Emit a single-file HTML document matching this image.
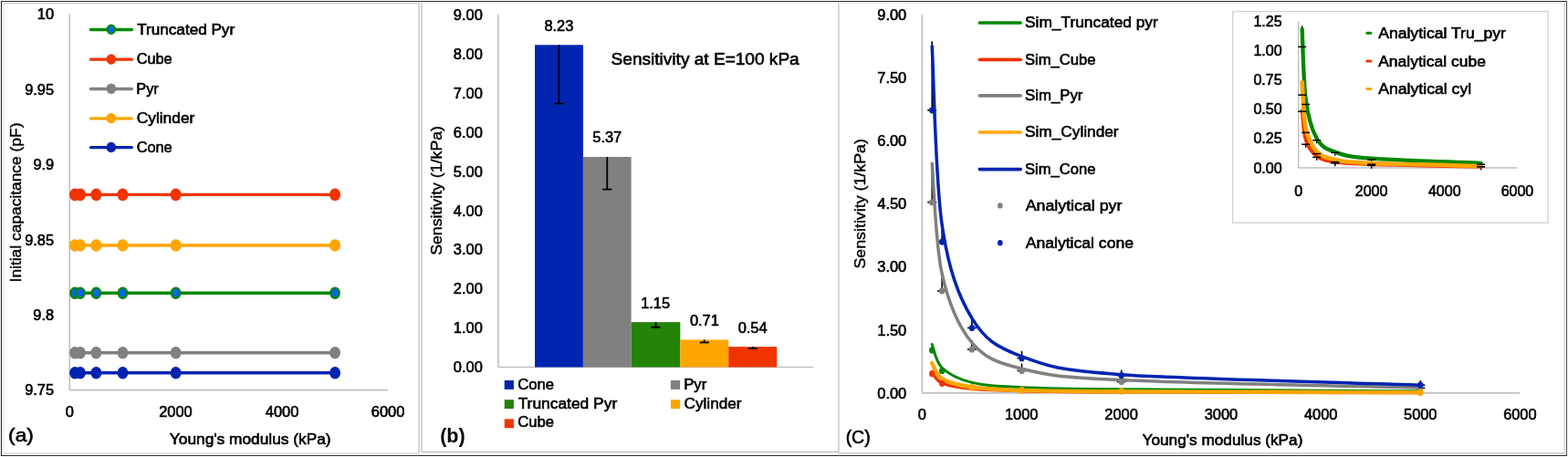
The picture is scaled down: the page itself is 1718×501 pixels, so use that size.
<!DOCTYPE html>
<html><head><meta charset="utf-8"><title>Capacitance and sensitivity charts</title>
<style>
html,body{margin:0;padding:0;background:#fff;}
body{width:1718px;height:501px;overflow:hidden;}
svg{display:block;font-family:'Liberation Sans', Arial, sans-serif;filter:blur(0.3px);}
text{fill:#000;stroke:#000;stroke-width:0.6px;}
</style></head><body>
<svg width="1718" height="501" viewBox="0 0 1718 501">
<rect x="0.00" y="0.00" width="1718.00" height="501.00" fill="#fff"/>
<line x1="4.00" y1="3.60" x2="459.10" y2="3.60" stroke="#d0d0d0" stroke-width="1.3"/>
<line x1="4.00" y1="3.60" x2="4.00" y2="497.00" stroke="#ececec" stroke-width="1.2"/>
<line x1="459.10" y1="3.00" x2="459.10" y2="497.00" stroke="#c8c8c8" stroke-width="1.5"/>
<line x1="4.00" y1="497.00" x2="459.10" y2="497.00" stroke="#d8d8d8" stroke-width="1.3"/>
<line x1="462.00" y1="2.80" x2="918.90" y2="2.80" stroke="#f2f2f2" stroke-width="1.2"/>
<line x1="462.00" y1="2.80" x2="462.00" y2="495.50" stroke="#c8c8c8" stroke-width="1.5"/>
<line x1="462.00" y1="495.50" x2="918.90" y2="495.50" stroke="#bdbdbd" stroke-width="1.3"/>
<line x1="918.90" y1="2.80" x2="918.90" y2="496.80" stroke="#c8c8c8" stroke-width="1.5"/>
<line x1="918.90" y1="3.30" x2="1714.30" y2="3.30" stroke="#eeeeee" stroke-width="1.2"/>
<line x1="1714.30" y1="3.30" x2="1714.30" y2="496.80" stroke="#d6d6d6" stroke-width="1.4"/>
<line x1="918.90" y1="496.80" x2="1714.30" y2="496.80" stroke="#c2c2c2" stroke-width="1.3"/>
<line x1="0.90" y1="1.50" x2="1717.10" y2="1.50" stroke="#2a2a2a" stroke-width="1.1"/>
<line x1="0.90" y1="499.50" x2="1717.10" y2="499.50" stroke="#2a2a2a" stroke-width="1.1"/>
<line x1="1.50" y1="0.90" x2="1.50" y2="500.10" stroke="#2a2a2a" stroke-width="1.1"/>
<line x1="1716.50" y1="0.90" x2="1716.50" y2="500.10" stroke="#505050" stroke-width="1.1"/>
<line x1="76.30" y1="15.60" x2="76.30" y2="427.60" stroke="#bfbfbf" stroke-width="1.6"/>
<line x1="76.30" y1="427.60" x2="425.20" y2="427.60" stroke="#bfbfbf" stroke-width="1.6"/>
<line x1="82.11" y1="213.40" x2="367.05" y2="213.40" stroke="#f03400" stroke-width="3.4"/>
<ellipse cx="82.11" cy="213.40" rx="6.0" ry="6.8" fill="#f03400"/>
<ellipse cx="87.93" cy="213.40" rx="6.0" ry="6.8" fill="#f03400"/>
<ellipse cx="105.38" cy="213.40" rx="6.0" ry="6.8" fill="#f03400"/>
<ellipse cx="134.45" cy="213.40" rx="6.0" ry="6.8" fill="#f03400"/>
<ellipse cx="192.60" cy="213.40" rx="6.0" ry="6.8" fill="#f03400"/>
<ellipse cx="367.05" cy="213.40" rx="6.0" ry="6.8" fill="#f03400"/>
<line x1="82.11" y1="269.00" x2="367.05" y2="269.00" stroke="#ffa500" stroke-width="3.4"/>
<ellipse cx="82.11" cy="269.00" rx="6.0" ry="6.8" fill="#ffa500"/>
<ellipse cx="87.93" cy="269.00" rx="6.0" ry="6.8" fill="#ffa500"/>
<ellipse cx="105.38" cy="269.00" rx="6.0" ry="6.8" fill="#ffa500"/>
<ellipse cx="134.45" cy="269.00" rx="6.0" ry="6.8" fill="#ffa500"/>
<ellipse cx="192.60" cy="269.00" rx="6.0" ry="6.8" fill="#ffa500"/>
<ellipse cx="367.05" cy="269.00" rx="6.0" ry="6.8" fill="#ffa500"/>
<line x1="82.11" y1="321.20" x2="367.05" y2="321.20" stroke="#008700" stroke-width="3.4"/>
<ellipse cx="82.11" cy="321.20" rx="4.8" ry="5.7" fill="#0a66e0" stroke="#008700" stroke-width="2.1"/>
<ellipse cx="87.93" cy="321.20" rx="4.8" ry="5.7" fill="#0a66e0" stroke="#008700" stroke-width="2.1"/>
<ellipse cx="105.38" cy="321.20" rx="4.8" ry="5.7" fill="#0a66e0" stroke="#008700" stroke-width="2.1"/>
<ellipse cx="134.45" cy="321.20" rx="4.8" ry="5.7" fill="#0a66e0" stroke="#008700" stroke-width="2.1"/>
<ellipse cx="192.60" cy="321.20" rx="4.8" ry="5.7" fill="#0a66e0" stroke="#008700" stroke-width="2.1"/>
<ellipse cx="367.05" cy="321.20" rx="4.8" ry="5.7" fill="#0a66e0" stroke="#008700" stroke-width="2.1"/>
<line x1="82.11" y1="386.80" x2="367.05" y2="386.80" stroke="#808080" stroke-width="3.4"/>
<ellipse cx="82.11" cy="386.80" rx="6.0" ry="6.8" fill="#808080"/>
<ellipse cx="87.93" cy="386.80" rx="6.0" ry="6.8" fill="#808080"/>
<ellipse cx="105.38" cy="386.80" rx="6.0" ry="6.8" fill="#808080"/>
<ellipse cx="134.45" cy="386.80" rx="6.0" ry="6.8" fill="#808080"/>
<ellipse cx="192.60" cy="386.80" rx="6.0" ry="6.8" fill="#808080"/>
<ellipse cx="367.05" cy="386.80" rx="6.0" ry="6.8" fill="#808080"/>
<line x1="82.11" y1="408.70" x2="367.05" y2="408.70" stroke="#0024b0" stroke-width="3.4"/>
<ellipse cx="82.11" cy="408.70" rx="6.0" ry="6.8" fill="#0024b0"/>
<ellipse cx="87.93" cy="408.70" rx="6.0" ry="6.8" fill="#0024b0"/>
<ellipse cx="105.38" cy="408.70" rx="6.0" ry="6.8" fill="#0024b0"/>
<ellipse cx="134.45" cy="408.70" rx="6.0" ry="6.8" fill="#0024b0"/>
<ellipse cx="192.60" cy="408.70" rx="6.0" ry="6.8" fill="#0024b0"/>
<ellipse cx="367.05" cy="408.70" rx="6.0" ry="6.8" fill="#0024b0"/>
<line x1="99.50" y1="32.50" x2="144.40" y2="32.50" stroke="#008700" stroke-width="3.3" stroke-linecap="round"/>
<ellipse cx="121.80" cy="32.30" rx="4.2" ry="4.7" fill="#0a66e0" stroke="#008700" stroke-width="2.1"/>
<line x1="99.50" y1="65.20" x2="144.40" y2="65.20" stroke="#f03400" stroke-width="3.3" stroke-linecap="round"/>
<ellipse cx="121.80" cy="65.00" rx="5.3" ry="5.7" fill="#f03400"/>
<line x1="99.50" y1="97.50" x2="144.40" y2="97.50" stroke="#808080" stroke-width="3.3" stroke-linecap="round"/>
<ellipse cx="121.80" cy="97.30" rx="5.3" ry="5.7" fill="#808080"/>
<line x1="99.50" y1="129.80" x2="144.40" y2="129.80" stroke="#ffa500" stroke-width="3.3" stroke-linecap="round"/>
<ellipse cx="121.80" cy="129.60" rx="5.3" ry="5.7" fill="#ffa500"/>
<line x1="99.50" y1="161.70" x2="144.40" y2="161.70" stroke="#0024b0" stroke-width="3.3" stroke-linecap="round"/>
<ellipse cx="121.80" cy="161.50" rx="5.3" ry="5.7" fill="#0024b0"/>
<line x1="545.90" y1="16.00" x2="545.90" y2="402.50" stroke="#bfbfbf" stroke-width="1.6"/>
<line x1="545.90" y1="402.50" x2="891.00" y2="402.50" stroke="#bfbfbf" stroke-width="1.6"/>
<rect x="586.00" y="49.27" width="52.90" height="353.23" fill="#0024b0"/>
<rect x="638.90" y="172.02" width="52.70" height="230.48" fill="#808080"/>
<rect x="691.60" y="353.14" width="53.70" height="49.36" fill="#238306"/>
<rect x="745.30" y="372.46" width="52.90" height="30.04" fill="#ffa500"/>
<rect x="798.20" y="380.18" width="53.00" height="22.32" fill="#f03400"/>
<line x1="612.45" y1="49.27" x2="612.45" y2="113.65" stroke="#000" stroke-width="1.8"/>
<line x1="607.45" y1="113.65" x2="617.45" y2="113.65" stroke="#000" stroke-width="1.8"/>
<line x1="665.25" y1="172.02" x2="665.25" y2="207.64" stroke="#000" stroke-width="1.8"/>
<line x1="660.25" y1="207.64" x2="670.25" y2="207.64" stroke="#000" stroke-width="1.8"/>
<line x1="718.45" y1="353.14" x2="718.45" y2="358.72" stroke="#000" stroke-width="1.8"/>
<line x1="713.45" y1="358.72" x2="723.45" y2="358.72" stroke="#000" stroke-width="1.8"/>
<line x1="771.75" y1="372.46" x2="771.75" y2="375.46" stroke="#000" stroke-width="1.8"/>
<line x1="766.75" y1="375.46" x2="776.75" y2="375.46" stroke="#000" stroke-width="1.8"/>
<line x1="824.70" y1="380.18" x2="824.70" y2="381.90" stroke="#000" stroke-width="1.8"/>
<line x1="819.70" y1="381.90" x2="829.70" y2="381.90" stroke="#000" stroke-width="1.8"/>
<rect x="552.70" y="417.00" width="10.20" height="9.90" fill="#0024b0"/>
<rect x="734.90" y="417.00" width="10.20" height="9.90" fill="#808080"/>
<rect x="552.70" y="438.20" width="10.20" height="9.90" fill="#238306"/>
<rect x="734.90" y="438.20" width="10.20" height="9.90" fill="#ffa500"/>
<rect x="552.70" y="459.40" width="10.20" height="9.90" fill="#f03400"/>
<line x1="1010.30" y1="16.30" x2="1010.30" y2="430.90" stroke="#bfbfbf" stroke-width="1.6"/>
<line x1="1010.30" y1="430.90" x2="1665.50" y2="430.90" stroke="#bfbfbf" stroke-width="1.6"/>
<line x1="1021.22" y1="179.36" x2="1021.22" y2="221.74" stroke="#000" stroke-width="1.6"/>
<line x1="1016.22" y1="221.74" x2="1026.22" y2="221.74" stroke="#000" stroke-width="1.6"/>
<line x1="1032.14" y1="304.21" x2="1032.14" y2="318.95" stroke="#000" stroke-width="1.6"/>
<line x1="1027.14" y1="318.95" x2="1037.14" y2="318.95" stroke="#000" stroke-width="1.6"/>
<line x1="1064.90" y1="373.31" x2="1064.90" y2="382.99" stroke="#000" stroke-width="1.6"/>
<line x1="1059.90" y1="382.99" x2="1069.90" y2="382.99" stroke="#000" stroke-width="1.6"/>
<line x1="1119.50" y1="398.65" x2="1119.50" y2="406.48" stroke="#000" stroke-width="1.6"/>
<line x1="1114.50" y1="406.48" x2="1124.50" y2="406.48" stroke="#000" stroke-width="1.6"/>
<line x1="1228.70" y1="415.24" x2="1228.70" y2="418.46" stroke="#000" stroke-width="1.6"/>
<line x1="1223.70" y1="418.46" x2="1233.70" y2="418.46" stroke="#000" stroke-width="1.6"/>
<line x1="1556.30" y1="423.53" x2="1556.30" y2="425.37" stroke="#000" stroke-width="1.6"/>
<line x1="1551.30" y1="425.37" x2="1561.30" y2="425.37" stroke="#000" stroke-width="1.6"/>
<line x1="1021.22" y1="45.29" x2="1021.22" y2="120.85" stroke="#000" stroke-width="1.6"/>
<line x1="1016.22" y1="120.85" x2="1026.22" y2="120.85" stroke="#000" stroke-width="1.6"/>
<line x1="1032.14" y1="248.00" x2="1032.14" y2="265.05" stroke="#000" stroke-width="1.6"/>
<line x1="1027.14" y1="265.05" x2="1037.14" y2="265.05" stroke="#000" stroke-width="1.6"/>
<line x1="1064.90" y1="346.59" x2="1064.90" y2="359.49" stroke="#000" stroke-width="1.6"/>
<line x1="1059.90" y1="359.49" x2="1069.90" y2="359.49" stroke="#000" stroke-width="1.6"/>
<line x1="1119.50" y1="384.83" x2="1119.50" y2="392.66" stroke="#000" stroke-width="1.6"/>
<line x1="1114.50" y1="392.66" x2="1124.50" y2="392.66" stroke="#000" stroke-width="1.6"/>
<line x1="1228.70" y1="405.56" x2="1228.70" y2="411.55" stroke="#000" stroke-width="1.6"/>
<line x1="1223.70" y1="411.55" x2="1233.70" y2="411.55" stroke="#000" stroke-width="1.6"/>
<line x1="1556.30" y1="417.08" x2="1556.30" y2="422.15" stroke="#000" stroke-width="1.6"/>
<line x1="1551.30" y1="422.15" x2="1561.30" y2="422.15" stroke="#000" stroke-width="1.6"/>
<path d="M1021.22,407.86 C1023.04,409.86 1024.86,416.77 1032.14,419.84 C1039.42,422.91 1050.34,424.83 1064.90,426.29 C1079.46,427.75 1092.20,428.02 1119.50,428.60 C1146.80,429.17 1155.90,429.43 1228.70,429.75 C1301.50,430.07 1501.70,430.40 1556.30,430.53" stroke="#f03400" stroke-width="3.4" fill="none" stroke-linejoin="round" stroke-linecap="round"/>
<path d="M1021.22,377.46 C1023.04,381.76 1024.86,396.27 1032.14,403.26 C1039.42,410.25 1050.34,415.81 1064.90,419.38 C1079.46,422.95 1092.20,423.45 1119.50,424.68 C1146.80,425.91 1155.90,426.06 1228.70,426.75 C1301.50,427.44 1501.70,428.48 1556.30,428.83" stroke="#008700" stroke-width="3.0" fill="none" stroke-linejoin="round" stroke-linecap="round"/>
<path d="M1021.22,398.19 C1023.04,401.03 1024.86,410.86 1032.14,415.24 C1039.42,419.61 1050.34,422.34 1064.90,424.45 C1079.46,426.56 1092.20,427.10 1119.50,427.91 C1146.80,428.71 1155.90,428.90 1228.70,429.29 C1301.50,429.67 1501.70,430.06 1556.30,430.21" stroke="#ffa500" stroke-width="4.4" fill="none" stroke-linejoin="round" stroke-linecap="round"/>
<path d="M1021.22,179.36 C1023.04,199.48 1024.86,267.35 1032.14,300.06 C1039.42,332.77 1050.34,358.26 1064.90,375.62 C1079.46,392.97 1092.20,397.35 1119.50,404.18 C1146.80,411.01 1155.90,413.16 1228.70,416.62 C1301.50,420.07 1501.70,423.53 1556.30,424.91" stroke="#808080" stroke-width="3.5" fill="none" stroke-linejoin="round" stroke-linecap="round"/>
<path d="M1021.22,50.82 C1023.04,83.46 1024.86,196.94 1032.14,246.62 C1039.42,296.30 1050.34,324.86 1064.90,348.90 C1079.46,372.93 1092.20,380.53 1119.50,390.82 C1146.80,401.11 1155.90,405.41 1228.70,410.63 C1301.50,415.85 1501.70,420.23 1556.30,422.15" stroke="#0024b0" stroke-width="3.5" fill="none" stroke-linejoin="round" stroke-linecap="round"/>
<ellipse cx="1021.22" cy="221.74" rx="3.2" ry="3.6" fill="#808080"/>
<ellipse cx="1032.14" cy="318.95" rx="3.2" ry="3.6" fill="#808080"/>
<ellipse cx="1064.90" cy="382.99" rx="3.2" ry="3.6" fill="#808080"/>
<ellipse cx="1119.50" cy="406.48" rx="3.2" ry="3.6" fill="#808080"/>
<ellipse cx="1228.70" cy="418.46" rx="3.2" ry="3.6" fill="#808080"/>
<ellipse cx="1556.30" cy="425.37" rx="3.2" ry="3.6" fill="#808080"/>
<ellipse cx="1021.22" cy="120.85" rx="3.2" ry="3.6" fill="#0024b0"/>
<ellipse cx="1032.14" cy="265.05" rx="3.2" ry="3.6" fill="#0024b0"/>
<ellipse cx="1064.90" cy="359.49" rx="3.2" ry="3.6" fill="#0024b0"/>
<ellipse cx="1119.50" cy="392.66" rx="3.2" ry="3.6" fill="#0024b0"/>
<ellipse cx="1228.70" cy="411.55" rx="3.2" ry="3.6" fill="#0024b0"/>
<ellipse cx="1556.30" cy="422.15" rx="3.2" ry="3.6" fill="#0024b0"/>
<ellipse cx="1021.22" cy="383.91" rx="3.2" ry="3.6" fill="#008700"/>
<ellipse cx="1032.14" cy="406.48" rx="3.2" ry="3.6" fill="#008700"/>
<ellipse cx="1021.22" cy="409.71" rx="3.2" ry="3.6" fill="#f03400"/>
<ellipse cx="1032.14" cy="420.30" rx="3.2" ry="3.6" fill="#f03400"/>
<ellipse cx="1064.90" cy="424.91" rx="3.4" ry="3.8" fill="#ffa500"/>
<ellipse cx="1119.50" cy="427.91" rx="3.4" ry="3.8" fill="#ffa500"/>
<ellipse cx="1228.70" cy="429.06" rx="3.4" ry="3.8" fill="#ffa500"/>
<ellipse cx="1556.30" cy="430.35" rx="3.4" ry="3.8" fill="#ffa500"/>
<line x1="1073.30" y1="25.00" x2="1118.20" y2="25.00" stroke="#008700" stroke-width="3.6" stroke-linecap="round"/>
<line x1="1073.30" y1="65.40" x2="1118.20" y2="65.40" stroke="#f03400" stroke-width="3.6" stroke-linecap="round"/>
<line x1="1073.30" y1="104.90" x2="1118.20" y2="104.90" stroke="#808080" stroke-width="3.6" stroke-linecap="round"/>
<line x1="1073.30" y1="145.00" x2="1118.20" y2="145.00" stroke="#ffa500" stroke-width="3.6" stroke-linecap="round"/>
<line x1="1073.30" y1="185.60" x2="1118.20" y2="185.60" stroke="#0024b0" stroke-width="3.6" stroke-linecap="round"/>
<ellipse cx="1095.80" cy="225.40" rx="2.8" ry="3.2" fill="#808080"/>
<ellipse cx="1095.80" cy="266.20" rx="2.8" ry="3.2" fill="#0024b0"/>
<rect x="1350.6" y="12.6" width="345.4" height="231.6" fill="#fff" stroke="#d4d4d4" stroke-width="1.4"/>
<line x1="1422.70" y1="23.00" x2="1422.70" y2="184.00" stroke="#bfbfbf" stroke-width="1.4"/>
<line x1="1422.70" y1="184.00" x2="1662.00" y2="184.00" stroke="#bfbfbf" stroke-width="1.4"/>
<line x1="1426.70" y1="28.15" x2="1426.70" y2="54.84" stroke="#000" stroke-width="1.4"/>
<line x1="1430.70" y1="106.72" x2="1430.70" y2="117.95" stroke="#000" stroke-width="1.4"/>
<line x1="1442.69" y1="149.22" x2="1442.69" y2="157.23" stroke="#000" stroke-width="1.4"/>
<line x1="1462.68" y1="164.68" x2="1462.68" y2="170.76" stroke="#000" stroke-width="1.4"/>
<line x1="1502.66" y1="172.41" x2="1502.66" y2="178.48" stroke="#000" stroke-width="1.4"/>
<line x1="1622.60" y1="178.20" x2="1622.60" y2="183.64" stroke="#000" stroke-width="1.4"/>
<line x1="1426.70" y1="115.74" x2="1426.70" y2="125.68" stroke="#000" stroke-width="1.4"/>
<line x1="1430.70" y1="150.51" x2="1430.70" y2="161.74" stroke="#000" stroke-width="1.4"/>
<line x1="1442.69" y1="168.54" x2="1442.69" y2="175.91" stroke="#000" stroke-width="1.4"/>
<line x1="1462.68" y1="176.27" x2="1462.68" y2="182.35" stroke="#000" stroke-width="1.4"/>
<line x1="1502.66" y1="178.85" x2="1502.66" y2="184.92" stroke="#000" stroke-width="1.4"/>
<line x1="1622.60" y1="181.42" x2="1622.60" y2="186.21" stroke="#000" stroke-width="1.4"/>
<line x1="1426.70" y1="88.04" x2="1426.70" y2="107.64" stroke="#000" stroke-width="1.4"/>
<line x1="1430.70" y1="138.92" x2="1430.70" y2="148.86" stroke="#000" stroke-width="1.4"/>
<line x1="1442.69" y1="164.68" x2="1442.69" y2="172.04" stroke="#000" stroke-width="1.4"/>
<line x1="1462.68" y1="174.98" x2="1462.68" y2="181.06" stroke="#000" stroke-width="1.4"/>
<line x1="1502.66" y1="178.20" x2="1502.66" y2="183.64" stroke="#000" stroke-width="1.4"/>
<line x1="1622.60" y1="181.42" x2="1622.60" y2="186.21" stroke="#000" stroke-width="1.4"/>
<path d="M1426.70,120.89 C1427.36,126.25 1428.03,144.72 1430.70,153.09 C1433.36,161.46 1437.36,167.04 1442.69,171.12 C1448.02,175.20 1452.68,176.06 1462.68,177.56 C1472.68,179.06 1476.01,179.28 1502.66,180.14 C1529.31,180.99 1602.61,182.28 1622.60,182.71" stroke="#f03400" stroke-width="4.0" fill="none" stroke-linejoin="round" stroke-linecap="round"/>
<path d="M1426.70,32.02 C1427.36,44.90 1428.03,89.33 1430.70,109.30 C1433.36,129.26 1437.36,142.25 1442.69,151.80 C1448.02,161.35 1452.68,162.96 1462.68,166.61 C1472.68,170.26 1476.01,171.66 1502.66,173.70 C1529.31,175.74 1602.61,177.99 1622.60,178.85" stroke="#008700" stroke-width="4.3" fill="none" stroke-linejoin="round" stroke-linecap="round"/>
<path d="M1426.70,89.98 C1427.36,98.35 1428.03,127.54 1430.70,140.21 C1433.36,152.87 1437.36,160.17 1442.69,165.97 C1448.02,171.76 1452.68,172.84 1462.68,174.98 C1472.68,177.13 1476.01,177.67 1502.66,178.85 C1529.31,180.03 1602.61,181.53 1622.60,182.07" stroke="#ffa500" stroke-width="4.6" fill="none" stroke-linejoin="round" stroke-linecap="round"/>
<line x1="1422.20" y1="51.34" x2="1431.20" y2="51.34" stroke="#000" stroke-width="1.5"/>
<line x1="1426.20" y1="114.45" x2="1435.20" y2="114.45" stroke="#000" stroke-width="1.5"/>
<line x1="1438.19" y1="153.73" x2="1447.19" y2="153.73" stroke="#000" stroke-width="1.5"/>
<line x1="1458.18" y1="167.26" x2="1467.18" y2="167.26" stroke="#000" stroke-width="1.5"/>
<line x1="1498.16" y1="174.98" x2="1507.16" y2="174.98" stroke="#000" stroke-width="1.5"/>
<line x1="1618.10" y1="180.14" x2="1627.10" y2="180.14" stroke="#000" stroke-width="1.5"/>
<line x1="1422.20" y1="122.18" x2="1431.20" y2="122.18" stroke="#000" stroke-width="1.5"/>
<line x1="1426.20" y1="158.24" x2="1435.20" y2="158.24" stroke="#000" stroke-width="1.5"/>
<line x1="1438.19" y1="172.41" x2="1447.19" y2="172.41" stroke="#000" stroke-width="1.5"/>
<line x1="1458.18" y1="178.85" x2="1467.18" y2="178.85" stroke="#000" stroke-width="1.5"/>
<line x1="1498.16" y1="181.42" x2="1507.16" y2="181.42" stroke="#000" stroke-width="1.5"/>
<line x1="1618.10" y1="182.71" x2="1627.10" y2="182.71" stroke="#000" stroke-width="1.5"/>
<line x1="1422.20" y1="104.14" x2="1431.20" y2="104.14" stroke="#000" stroke-width="1.5"/>
<line x1="1426.20" y1="145.36" x2="1435.20" y2="145.36" stroke="#000" stroke-width="1.5"/>
<line x1="1438.19" y1="168.54" x2="1447.19" y2="168.54" stroke="#000" stroke-width="1.5"/>
<line x1="1458.18" y1="177.56" x2="1467.18" y2="177.56" stroke="#000" stroke-width="1.5"/>
<line x1="1498.16" y1="180.14" x2="1507.16" y2="180.14" stroke="#000" stroke-width="1.5"/>
<line x1="1618.10" y1="182.71" x2="1627.10" y2="182.71" stroke="#000" stroke-width="1.5"/>
<line x1="1497.80" y1="36.20" x2="1501.80" y2="36.20" stroke="#008700" stroke-width="3" stroke-linecap="round"/>
<line x1="1497.80" y1="67.10" x2="1501.80" y2="67.10" stroke="#f03400" stroke-width="3" stroke-linecap="round"/>
<line x1="1497.80" y1="97.60" x2="1501.80" y2="97.60" stroke="#ffa500" stroke-width="3" stroke-linecap="round"/>
<text x="40.85" y="21.35" font-size="16.4">10</text>
<text x="27.17" y="103.75" font-size="16.4">9.95</text>
<text x="36.46" y="186.15" font-size="16.4">9.9</text>
<text x="27.17" y="268.55" font-size="16.4">9.85</text>
<text x="36.29" y="350.95" font-size="16.4">9.8</text>
<text x="27.17" y="433.35" font-size="16.4">9.75</text>
<text x="71.79" y="457.00" font-size="16.4">0</text>
<text x="174.24" y="457.00" font-size="16.4">2000</text>
<text x="290.79" y="457.00" font-size="16.4">4000</text>
<text x="406.84" y="457.00" font-size="16.4">6000</text>
<text x="185.85" y="486.80" font-size="16.6" textLength="176.76" lengthAdjust="spacingAndGlyphs">Young's modulus (kPa)</text>
<text x="9.14" y="484.30" font-size="21" textLength="27.77" lengthAdjust="spacingAndGlyphs">(a)</text>
<text transform="translate(23.40,0) rotate(-90)" x="-309.46" y="0" font-size="17.0" textLength="174.89" lengthAdjust="spacingAndGlyphs" style="stroke-width:0.4px">Initial capacitance (pF)</text>
<text x="150.26" y="37.70" font-size="16.1" textLength="106.86" lengthAdjust="spacingAndGlyphs">Truncated Pyr</text>
<text x="149.79" y="70.40" font-size="16.1" textLength="38.90" lengthAdjust="spacingAndGlyphs">Cube</text>
<text x="149.29" y="102.70" font-size="16.1" textLength="24.52" lengthAdjust="spacingAndGlyphs">Pyr</text>
<text x="149.73" y="135.00" font-size="16.1" textLength="63.59" lengthAdjust="spacingAndGlyphs">Cylinder</text>
<text x="149.79" y="166.90" font-size="16.1" textLength="38.90" lengthAdjust="spacingAndGlyphs">Cone</text>
<text x="496.87" y="408.25" font-size="16.4">0.00</text>
<text x="496.87" y="365.33" font-size="16.4">1.00</text>
<text x="496.87" y="322.41" font-size="16.4">2.00</text>
<text x="496.87" y="279.49" font-size="16.4">3.00</text>
<text x="496.87" y="236.57" font-size="16.4">4.00</text>
<text x="496.87" y="193.65" font-size="16.4">5.00</text>
<text x="496.87" y="150.73" font-size="16.4">6.00</text>
<text x="496.87" y="107.81" font-size="16.4">7.00</text>
<text x="496.87" y="64.89" font-size="16.4">8.00</text>
<text x="496.87" y="21.97" font-size="16.4">9.00</text>
<text x="596.46" y="33.67" font-size="16.4">8.23</text>
<text x="649.34" y="156.42" font-size="16.4">5.37</text>
<text x="702.21" y="337.54" font-size="16.4">1.15</text>
<text x="755.92" y="356.86" font-size="16.4">0.71</text>
<text x="808.71" y="364.58" font-size="16.4">0.54</text>
<text x="669.64" y="71.40" font-size="19.0" textLength="206.09" lengthAdjust="spacingAndGlyphs">Sensitivity at E=100 kPa</text>
<text x="567.17" y="426.90" font-size="16.1" textLength="39.73" lengthAdjust="spacingAndGlyphs">Cone</text>
<text x="567.65" y="447.60" font-size="16.1" textLength="108.57" lengthAdjust="spacingAndGlyphs">Truncated Pyr</text>
<text x="567.17" y="468.40" font-size="16.1" textLength="39.73" lengthAdjust="spacingAndGlyphs">Cube</text>
<text x="749.16" y="426.90" font-size="16.1" textLength="25.05" lengthAdjust="spacingAndGlyphs">Pyr</text>
<text x="749.64" y="447.60" font-size="16.1" textLength="62.78" lengthAdjust="spacingAndGlyphs">Cylinder</text>
<text x="482.14" y="485.30" font-size="22" font-weight="bold" textLength="27.49" lengthAdjust="spacingAndGlyphs" style="stroke:none">(b)</text>
<text transform="translate(483.80,0) rotate(-90)" x="-279.81" y="0" font-size="17.4" textLength="141.75" lengthAdjust="spacingAndGlyphs" style="stroke-width:0.4px">Sensitivity (1/kPa)</text>
<text x="961.27" y="436.65" font-size="16.4">0.00</text>
<text x="961.27" y="367.54" font-size="16.4">1.50</text>
<text x="961.27" y="298.44" font-size="16.4">3.00</text>
<text x="961.27" y="229.33" font-size="16.4">4.50</text>
<text x="961.27" y="160.23" font-size="16.4">6.00</text>
<text x="961.27" y="91.12" font-size="16.4">7.50</text>
<text x="961.27" y="22.02" font-size="16.4">9.00</text>
<text x="1005.79" y="460.30" font-size="16.4">0</text>
<text x="1100.98" y="460.30" font-size="16.4">1000</text>
<text x="1210.34" y="460.30" font-size="16.4">2000</text>
<text x="1319.71" y="460.30" font-size="16.4">3000</text>
<text x="1428.99" y="460.30" font-size="16.4">4000</text>
<text x="1538.03" y="460.30" font-size="16.4">5000</text>
<text x="1647.14" y="460.30" font-size="16.4">6000</text>
<text x="1251.56" y="487.50" font-size="16.6" textLength="175.86" lengthAdjust="spacingAndGlyphs">Young's modulus (kPa)</text>
<text x="926.63" y="486.10" font-size="19.5" textLength="27.00" lengthAdjust="spacingAndGlyphs">(C)</text>
<text transform="translate(948.10,0) rotate(-90)" x="-294.61" y="0" font-size="17.2" textLength="142.56" lengthAdjust="spacingAndGlyphs" style="stroke-width:0.4px">Sensitivity (1/kPa)</text>
<text x="1123.01" y="30.20" font-size="17.0" textLength="145.82" lengthAdjust="spacingAndGlyphs">Sim_Truncated pyr</text>
<text x="1123.04" y="70.60" font-size="17.0" textLength="77.36" lengthAdjust="spacingAndGlyphs">Sim_Cube</text>
<text x="1123.03" y="110.10" font-size="17.0" textLength="63.39" lengthAdjust="spacingAndGlyphs">Sim_Pyr</text>
<text x="1123.01" y="150.20" font-size="17.0" textLength="102.61" lengthAdjust="spacingAndGlyphs">Sim_Cylinder</text>
<text x="1123.04" y="190.80" font-size="17.0" textLength="77.36" lengthAdjust="spacingAndGlyphs">Sim_Cone</text>
<text x="1123.70" y="230.70" font-size="17.0" textLength="105.73" lengthAdjust="spacingAndGlyphs">Analytical pyr</text>
<text x="1123.70" y="271.50" font-size="17.0" textLength="118.34" lengthAdjust="spacingAndGlyphs">Analytical cone</text>
<text x="1373.44" y="189.60" font-size="16.0">0.00</text>
<text x="1373.44" y="157.40" font-size="16.0">0.25</text>
<text x="1373.44" y="125.20" font-size="16.0">0.50</text>
<text x="1373.44" y="93.00" font-size="16.0">0.75</text>
<text x="1373.44" y="60.80" font-size="16.0">1.00</text>
<text x="1373.44" y="28.60" font-size="16.0">1.25</text>
<text x="1418.30" y="214.60" font-size="16.0">0</text>
<text x="1484.75" y="214.60" font-size="16.0">2000</text>
<text x="1564.95" y="214.60" font-size="16.0">4000</text>
<text x="1644.67" y="214.60" font-size="16.0">6000</text>
<text x="1510.20" y="41.60" font-size="16.2" textLength="139.73" lengthAdjust="spacingAndGlyphs">Analytical Tru_pyr</text>
<text x="1510.20" y="72.50" font-size="16.2" textLength="117.73" lengthAdjust="spacingAndGlyphs">Analytical cube</text>
<text x="1510.20" y="103.00" font-size="16.2" textLength="102.00" lengthAdjust="spacingAndGlyphs">Analytical cyl</text>
</svg>
</body></html>
